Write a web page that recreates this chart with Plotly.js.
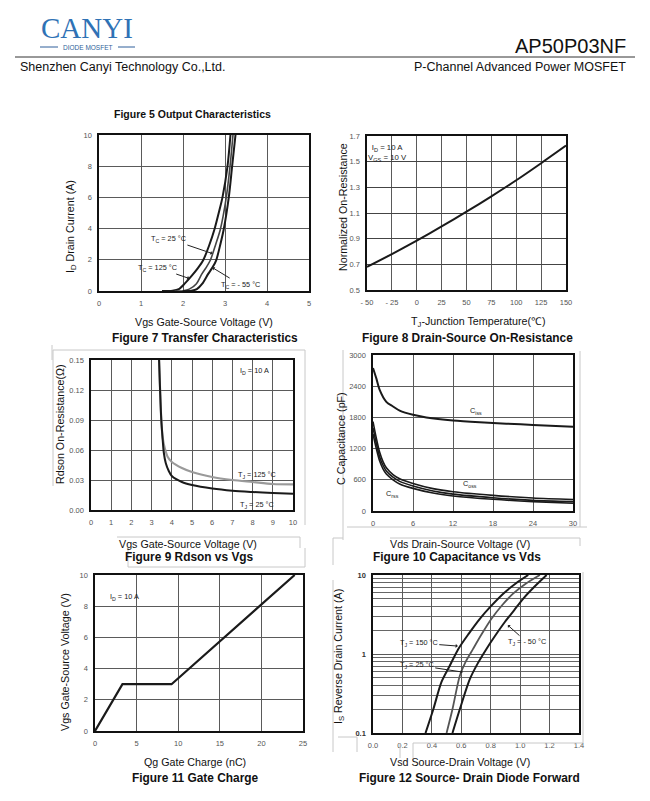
<!DOCTYPE html>
<html><head><meta charset="utf-8">
<script src="https://cdn.plot.ly/plotly-3.0.1.min.js"></script>
<style>html,body{margin:0;padding:0;background:#fff;}#chart{width:650px;height:801px;}</style>
</head><body><div id="chart"></div>
<script>
// ---------- Figure 7: Transfer characteristics ----------
const fig7Vgs125 = [1.5,1.75,1.9,2.04,2.2,2.35,2.48,2.62,2.75,2.85,2.94,3.06,3.13];
const fig7Id125  = [0,0.02,0.12,0.47,0.95,1.45,1.97,2.9,3.96,5.0,6.0,8.0,10];
const fig7Vgs25  = [1.8,2.0,2.15,2.32,2.45,2.55,2.65,2.78,2.89,3.03,3.12,3.19];
const fig7Id25   = [0,0.02,0.12,0.47,1.1,1.5,1.97,3.0,3.96,6.0,8.0,10];
const fig7VgsM55 = [2.0,2.2,2.33,2.46,2.6,2.7,2.79,2.89,2.97,3.09,3.17,3.25];
const fig7IdM55  = [0,0.02,0.12,0.47,1.1,1.5,1.97,3.0,3.96,6.0,8.0,10];
const fig7XTicks = [0,1,2,3,4,5];
const fig7YTicks = [0,2,4,6,8,10];

// ---------- Figure 8: Normalized on-resistance ----------
const fig8Temp = [-50,-25,0,25,50,75,100,125,150];
const fig8Rn   = [0.68,0.78,0.885,0.995,1.11,1.23,1.355,1.488,1.625];
const fig8XTicks = [-50,-25,0,25,50,75,100,125,150];
const fig8XText  = ['- 50','- 25','0','25','50','75','100','125','150'];
const fig8YTicks = [0.5,0.7,0.9,1.1,1.3,1.5,1.7];

// ---------- Figure 9: Rdson vs Vgs ----------
const fig9Vgs25  = [3.37,3.42,3.48,3.55,3.6,3.7,3.85,4,4.5,5,6,7,8,9,10];
const fig9R25    = [0.15,0.12,0.09,0.07,0.058,0.047,0.039,0.034,0.028,0.025,0.0215,0.0193,0.018,0.017,0.0163];
const fig9Vgs125 = [3.37,3.42,3.48,3.55,3.65,3.8,4,4.5,5,6,7,8,9,10];
const fig9R125   = [0.15,0.12,0.09,0.072,0.062,0.053,0.048,0.042,0.038,0.033,0.030,0.028,0.026,0.0257];
const fig9XTicks = [0,1,2,3,4,5,6,7,8,9,10];
const fig9YTicks = [0,0.03,0.06,0.09,0.12,0.15];

// ---------- Figure 10: Capacitance vs Vds ----------
const fig10VdsIss = [0,0.5,1,2,3,4,6,8,12,16,20,24,30];
const fig10Ciss   = [2750,2550,2330,2100,2010,1930,1850,1800,1740,1705,1680,1655,1620];
const fig10Vds    = [0,0.5,1,1.5,2,3,4,6,9,12,18,24,30];
const fig10Coss   = [1720,1400,1130,950,830,700,620,530,430,370,300,250,220];
const fig10Cmid   = [1600,1300,1040,880,770,650,570,480,385,325,255,205,180];
const fig10Crss   = [1480,1200,960,810,710,600,520,435,345,290,225,180,148];
const fig10XTicks = [0,6,12,18,24,30];
const fig10YTicks = [0,600,1200,1800,2400,3000];

// ---------- Figure 11: Gate charge ----------
const fig11Qg  = [0,3.3,9.2,24];
const fig11Vgs = [0,3,3,10];
const fig11XTicks = [0,5,10,15,20,25];
const fig11YTicks = [0,2,4,6,8,10];

// ---------- Figure 12: Source-drain diode forward ----------
const fig12Vsd150 = [0.357,0.41,0.465,0.52,0.58,0.65,0.726,0.8,0.885,0.97,1.055];
const fig12Is150  = [0.1,0.2,0.44,0.7,1.16,1.8,2.79,4,5.8,7.8,10];
const fig12Vsd25  = [0.5,0.54,0.59,0.63,0.68,0.74,0.805,0.88,0.952,1.04,1.134];
const fig12Is25   = [0.1,0.2,0.53,0.8,1.16,1.8,2.79,4.2,5.8,7.8,10];
const fig12VsdM50 = [0.54,0.59,0.658,0.71,0.771,0.83,0.896,0.96,1.02,1.1,1.18];
const fig12IsM50  = [0.1,0.2,0.48,0.75,1.16,1.7,2.54,3.6,5.0,7.2,10];
const fig12XTicks = [0,0.2,0.4,0.6,0.8,1.0,1.2,1.4];
const fig12YTicks = [0.1,1,10];
const fig12YMinor = [0.2,0.3,0.4,0.5,0.6,0.7,0.8,0.9,2,3,4,5,6,7,8,9];

// ---------- layout helpers ----------
const W = 650, H = 801;
const FONT = 'Liberation Sans, Arial, sans-serif';
const px = x => x / W;
const py = y => 1 - y / H;
const DARK = '#1a1a1a';
const sub = s => '<span style="font-size:72%;baseline-shift:-0.3em">' + s + '</span>';

function axis(dom, opts) {
  return Object.assign({
    domain: dom, showline: true, mirror: true, linecolor: '#111', linewidth: 1.6,
    showgrid: true, gridcolor: '#5a5a5a', gridwidth: 1, zeroline: false,
    ticks: 'outside', ticklen: 4, tickcolor: 'rgba(0,0,0,0)',
    tickfont: {family: FONT, size: 7.5, color: '#555'}, fixedrange: true
  }, opts);
}

const layout = {
  width: W, height: H, autosize: false,
  margin: {l: 0, r: 0, t: 0, b: 0},
  paper_bgcolor: '#fff', plot_bgcolor: '#fff',
  showlegend: false,
  font: {family: FONT, color: '#111'},
  xaxis:  axis([px(99), px(309)], {anchor: 'y',  range: [0,5],  tickvals: fig7XTicks}),
  yaxis:  axis([py(291), py(135)], {anchor: 'x', range: [0,10], tickvals: fig7YTicks}),
  xaxis2: axis([px(367), px(566)], {anchor: 'y2', range: [-50,150], tickvals: fig8XTicks, ticktext: fig8XText}),
  yaxis2: axis([py(290), py(136)], {anchor: 'x2', range: [0.5,1.7], tickvals: fig8YTicks, tickformat: '.1f', gridcolor: '#444'}),
  xaxis3: axis([px(91), px(293)], {anchor: 'y3', range: [0,10], tickvals: fig9XTicks}),
  yaxis3: axis([py(510), py(360)], {anchor: 'x3', range: [0,0.15], tickvals: fig9YTicks, tickformat: '.2f'}),
  xaxis4: axis([px(373), px(573)], {anchor: 'y4', range: [0,30], tickvals: fig10XTicks}),
  yaxis4: axis([py(511), py(355)], {anchor: 'x4', range: [0,3000], tickvals: fig10YTicks}),
  xaxis5: axis([px(95), px(303)], {anchor: 'y5', range: [0,25], tickvals: fig11XTicks}),
  yaxis5: axis([py(731), py(575)], {anchor: 'x5', range: [0,10], tickvals: fig11YTicks}),
  xaxis6: axis([px(373), px(579)], {anchor: 'y6', range: [0,1.4], tickvals: fig12XTicks, tickformat: '.1f'}),
  yaxis6: axis([py(733), py(575)], {anchor: 'x6', type: 'log', range: [-1,1], tickvals: fig12YTicks, ticktext: ['0.1','1','10'],
    tickfont: {family: FONT, size: 7.5, color: '#333', weight: 'bold'},
    minor: {tickmode: 'array', tickvals: fig12YMinor, showgrid: true, gridcolor: '#666', gridwidth: 1, ticks: ''}}),
  annotations: [],
  shapes: []
};

const A = layout.annotations;
function txt(text, x, y, size, opts) {
  A.push(Object.assign({text: text, x: px(x), y: py(y), xref: 'paper', yref: 'paper',
    showarrow: false, xanchor: 'center', yanchor: 'middle',
    font: {family: FONT, size: size, color: '#111'}}, opts || {}));
}
function note(text, ax, ay, x, y, xr, yr, sz) {
  A.push({text: text, x: x, y: y, xref: xr, yref: yr, ax: ax, ay: ay,
    showarrow: true, arrowhead: 1, arrowsize: 0.7, arrowwidth: 1, arrowcolor: '#222',
    font: {family: FONT, size: sz || 7.3, color: '#222'}});
}
function lbl(text, x, y, xr, yr, sz) {
  A.push({text: text, x: x, y: y, xref: xr, yref: yr, showarrow: false,
    font: {family: FONT, size: sz || 7.3, color: '#222'}});
}

// Header
txt('CANYI', 87, 28, 29, {font: {family: 'Liberation Serif, DejaVu Serif, serif', size: 29, color: '#2f72b5'}});
txt('DIODE MOSFET', 88, 47, 6.5, {font: {family: FONT, size: 6.5, color: '#2f5f9a'}});
txt('AP50P03NF', 628, 46, 20, {xanchor: 'right', font: {family: FONT, size: 20, color: '#111'}});
txt('Shenzhen Canyi Technology Co.,Ltd.', 18, 67, 12.5, {xanchor: 'left'});
txt('P-Channel Advanced Power MOSFET', 628, 67, 12.5, {xanchor: 'right'});
txt('<b>Figure 5 Output Characteristics</b>', 112, 114, 10.5, {xanchor: 'left'});

layout.shapes.push(
  {type: 'line', xref: 'paper', yref: 'paper', x0: px(15), x1: px(635), y0: py(57), y1: py(57), line: {color: '#333', width: 1}},
  {type: 'line', xref: 'paper', yref: 'paper', x0: px(40), x1: px(58), y0: py(47), y1: py(47), line: {color: '#2f5f9a', width: 1}},
  {type: 'line', xref: 'paper', yref: 'paper', x0: px(118), x1: px(135), y0: py(47), y1: py(47), line: {color: '#2f5f9a', width: 1}}
);
// faint scan-artifact outlines
const faint = [
  [53,350,305,350],[53,350,53,486],[305,350,305,525],[117,537,300,537],[300,537,300,548],
  [128,548,128,567],[128,567,305,567],[305,548,305,567],
  [343,350,343,540],[580,351,580,527],[347,527,587,527],[390,538,580,538],[580,538,580,546],[333,538,333,565],[333,538,343,538],
  [333,580,333,752],[338,737,357,737],[357,737,357,752],[400,743,400,758],[413,743,583,743],[413,743,413,760],[583,572,583,743],
  [52,345,52,360]
];
faint.forEach(f => layout.shapes.push({type: 'line', xref: 'paper', yref: 'paper',
  x0: px(f[0]), y0: py(f[1]), x1: px(f[2]), y1: py(f[3]), line: {color: '#c8c8c8', width: 1}}));

const TS = 11.9;
// Figure 7 texts
txt('I' + sub('D') + ' Drain Current (A)', 71, 227, 10.7, {textangle: -90});
txt('Vgs Gate-Source Voltage (V)', 204, 322, 10.7);
txt('<b>Figure 7 Transfer Characteristics</b>', 205, 338, TS);
note('T' + sub('C') + ' = 25 °C', -44, -15, 2.7, 2.4, 'x', 'y');
note('T' + sub('C') + ' = 125 °C', -32, -11, 2.15, 0.8, 'x', 'y');
note('T' + sub('C') + ' = - 55 °C', 28, 17, 2.7, 1.5, 'x', 'y');

// Figure 8 texts
txt('Normalized On-Resistance', 343, 207, 10.7, {textangle: -90});
txt('T' + sub('J') + '-Junction Temperature(℃)', 478, 322, 10.7);
txt('<b>Figure 8 Drain-Source On-Resistance</b>', 467, 338, TS);
lbl('I' + sub('D') + ' = 10 A<br>V' + sub('GS') + ' = 10 V', -29, 1.565, 'x2', 'y2', 7.8);

// Figure 9 texts
txt('Rdson On-Resistance(Ω)', 60, 424, 10.7, {textangle: -90});
txt('Vgs Gate-Source Voltage (V)', 188, 544, 10.7);
txt('<b>Figure 9 Rdson vs Vgs</b>', 189, 557, TS);
lbl('I' + sub('D') + ' = 10 A', 8.1, 0.139, 'x3', 'y3');
lbl('T' + sub('J') + ' = 125 °C', 8.2, 0.0355, 'x3', 'y3');
lbl('T' + sub('J') + ' = 25 °C', 8.2, 0.0055, 'x3', 'y3');

// Figure 10 texts
txt('C Capacitance (pF)', 341, 439, 10.7, {textangle: -90});
txt('Vds Drain-Source Voltage (V)', 460, 544, 10.7);
txt('<b>Figure 10 Capacitance vs Vds</b>', 457, 557, TS);
lbl('C' + sub('iss'), 15.5, 1920, 'x4', 'y4');
lbl('C' + sub('oss'), 14.5, 520, 'x4', 'y4');
lbl('C' + sub('rss'), 2.9, 320, 'x4', 'y4');

// Figure 11 texts
txt('Vgs Gate-Source Voltage (V)', 65, 662, 10.7, {textangle: -90});
txt('Qg Gate Charge (nC)', 195, 762, 10.7);
txt('<b>Figure 11 Gate Charge</b>', 195, 778, TS);
lbl('I' + sub('D') + ' = 10 A', 3.6, 8.6, 'x5', 'y5');

// Figure 12 texts
txt('I' + sub('S') + ' Reverse Drain Current (A)', 339, 657, 10.7, {textangle: -90});
txt('Vsd Source-Drain Voltage (V)', 460, 762, 10.7);
txt('<b>Figure 12 Source- Drain Diode Forward</b>', 469, 778, TS);
note('T' + sub('J') + ' = 150 °C', -39, -3, 0.576, Math.log10(1.26), 'x6', 'y6');
note('T' + sub('J') + ' = 25 °C', -46, -7, 0.61, Math.log10(0.59), 'x6', 'y6');
note('T' + sub('J') + ' = - 50 °C', 19, 17, 0.916, Math.log10(2.32), 'x6', 'y6');

function line(x, y, xa, ya, color, width, shape) {
  return {type: 'scatter', mode: 'lines', x: x, y: y, xaxis: xa, yaxis: ya,
    line: {color: color, width: width, shape: shape || 'spline', smoothing: 0.8}, hoverinfo: 'skip'};
}

const data = [
  line(fig7Vgs125, fig7Id125, 'x', 'y', DARK, 2),
  line(fig7Vgs25,  fig7Id25,  'x', 'y', '#444', 1.6),
  line(fig7VgsM55, fig7IdM55, 'x', 'y', DARK, 2),
  line(fig8Temp, fig8Rn, 'x2', 'y2', DARK, 2),
  line(fig9Vgs125, fig9R125, 'x3', 'y3', '#9a9a9a', 2.2),
  line(fig9Vgs25,  fig9R25,  'x3', 'y3', DARK, 2),
  line(fig10VdsIss, fig10Ciss, 'x4', 'y4', DARK, 2),
  line(fig10Vds, fig10Coss, 'x4', 'y4', DARK, 1.6),
  line(fig10Vds, fig10Cmid, 'x4', 'y4', DARK, 1.6),
  line(fig10Vds, fig10Crss, 'x4', 'y4', DARK, 1.6),
  line(fig11Qg, fig11Vgs, 'x5', 'y5', DARK, 2.2, 'linear'),
  line(fig12Vsd150, fig12Is150, 'x6', 'y6', DARK, 2),
  line(fig12Vsd25,  fig12Is25,  'x6', 'y6', '#555', 1.8),
  line(fig12VsdM50, fig12IsM50, 'x6', 'y6', DARK, 2)
];

Plotly.newPlot('chart', data, layout, {staticPlot: true, displayModeBar: false});
</script>
</body></html>
